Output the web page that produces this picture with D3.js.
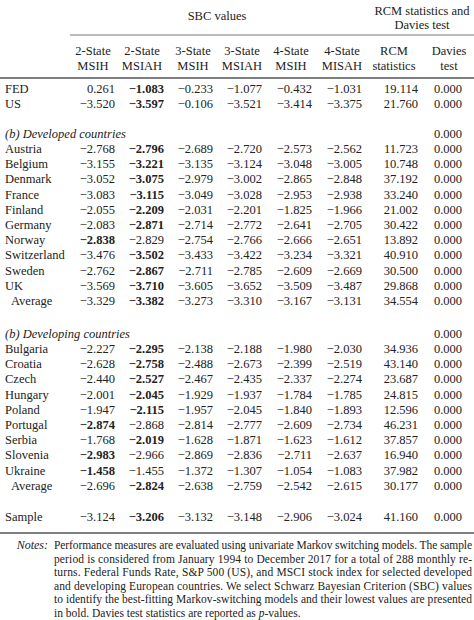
<!DOCTYPE html><html><head><meta charset="utf-8">
<script src="https://cdn.jsdelivr.net/npm/d3@7"></script>
<style>body{margin:0;background:#fff}svg{display:block}</style></head><body>
<script>
const colHeads=[["2-State","MSIH"],["2-State","MSIAH"],["3-State","MSIH"],["3-State","MSIAH"],["4-State","MSIH"],["4-State","MISAH"],["RCM","statistics"],["Davies","test"]];
const rowsA=[["FED",[0.261,-1.083,-0.233,-1.077,-0.432,-1.031],19.114,0],["US",[-3.520,-3.597,-0.106,-3.521,-3.414,-3.375],21.760,0]];
const rowsB=[["Austria",[-2.768,-2.796,-2.689,-2.720,-2.573,-2.562],11.723,0],["Belgium",[-3.155,-3.221,-3.135,-3.124,-3.048,-3.005],10.748,0],["Denmark",[-3.052,-3.075,-2.979,-3.002,-2.865,-2.848],37.192,0],["France",[-3.083,-3.115,-3.049,-3.028,-2.953,-2.938],33.240,0],["Finland",[-2.055,-2.209,-2.031,-2.201,-1.825,-1.966],21.002,0],["Germany",[-2.083,-2.871,-2.714,-2.772,-2.641,-2.705],30.422,0],["Norway",[-2.838,-2.829,-2.754,-2.766,-2.666,-2.651],13.892,0],["Switzerland",[-3.476,-3.502,-3.433,-3.422,-3.234,-3.321],40.910,0],["Sweden",[-2.762,-2.867,-2.711,-2.785,-2.609,-2.669],30.500,0],["UK",[-3.569,-3.710,-3.605,-3.652,-3.509,-3.487],29.868,0],["  Average",[-3.329,-3.382,-3.273,-3.310,-3.167,-3.131],34.554,0]];
const rowsC=[["Bulgaria",[-2.227,-2.295,-2.138,-2.188,-1.980,-2.030],34.936,0],["Croatia",[-2.628,-2.758,-2.488,-2.673,-2.399,-2.519],43.140,0],["Czech",[-2.440,-2.527,-2.467,-2.435,-2.337,-2.274],23.687,0],["Hungary",[-2.001,-2.045,-1.929,-1.937,-1.784,-1.785],24.815,0],["Poland",[-1.947,-2.115,-1.957,-2.045,-1.840,-1.893],12.596,0],["Portugal",[-2.874,-2.868,-2.814,-2.777,-2.609,-2.734],46.231,0],["Serbia",[-1.768,-2.019,-1.628,-1.871,-1.623,-1.612],37.857,0],["Slovenia",[-2.983,-2.966,-2.869,-2.836,-2.711,-2.637],16.940,0],["Ukraine",[-1.458,-1.455,-1.372,-1.307,-1.054,-1.083],37.982,0],["  Average",[-2.696,-2.824,-2.638,-2.759,-2.542,-2.615],30.177,0]];
const rowsD=[["Sample",[-3.124,-3.206,-3.132,-3.148,-2.906,-3.024],41.160,0]];
const notes=["Performance measures are evaluated using univariate Markov switching models. The sample","period is considered from January 1994 to December 2017 for a total of 288 monthly re-","turns. Federal Funds Rate, S&P 500 (US), and MSCI stock index for selected developed","and developing European countries. We select Schwarz Bayesian Criterion (SBC) values","to identify the best-fitting Markov-switching models and their lowest values are presented","in bold. Davies test statistics are reported as |p|-values."];

const svg=d3.select("body").append("svg").attr("width",474).attr("height",620)
 .style("font-family","'Liberation Serif','Times New Roman','DejaVu Serif',serif").style("font-size","12.5px").attr("fill","#222");
const rights=[115,164,213,262,312,362,418,462];
const centers=[93,142,193,242,291,342,394,449];
const fmt=v=>{const s=d3.format(".3f")(Math.abs(v));return (v<0?"\u2212":"")+s;};
svg.append("text").attr("x",217).attr("y",20).attr("text-anchor","middle").text("SBC values");
svg.append("text").attr("x",422).attr("y",15).attr("text-anchor","middle").text("RCM statistics and");
svg.append("text").attr("x",422).attr("y",29).attr("text-anchor","middle").text("Davies test");
svg.append("line").attr("x1",70).attr("x2",474).attr("y1",35).attr("y2",35).attr("stroke","#777").attr("stroke-width",1);
colHeads.forEach((h,i)=>{h.forEach((t,j)=>svg.append("text").attr("x",centers[i]).attr("y",55+j*15).attr("text-anchor","middle").text(t));});
svg.append("line").attr("x1",0).attr("x2",474).attr("y1",78).attr("y2",78).attr("stroke","#555").attr("stroke-width",1.3);
function drawRows(rows,y0){
 const y=d3.scaleLinear().domain([0,1]).range([y0,y0+15.2]);
 rows.forEach((r,k)=>{
  const yy=y(k);
  svg.append("text").attr("x",r[0].startsWith(" ")?11:5).attr("y",yy).text(r[0].trim());
  const mn=d3.min(r[1]);
  r[1].forEach((v,i)=>svg.append("text").attr("x",rights[i]).attr("y",yy).attr("text-anchor","end").attr("font-weight",v===mn?"bold":null).text(fmt(v)));
  svg.append("text").attr("x",rights[6]).attr("y",yy).attr("text-anchor","end").text(d3.format(".3f")(r[2]));
  svg.append("text").attr("x",rights[7]).attr("y",yy).attr("text-anchor","end").text(d3.format(".3f")(r[3]));
 });
}
function section(label,y){
 svg.append("text").attr("x",5).attr("y",y).attr("font-style","italic").text(label);
 svg.append("text").attr("x",rights[7]).attr("y",y).attr("text-anchor","end").text("0.000");
}
drawRows(rowsA,93);
section("(b) Developed countries",138);
drawRows(rowsB,153);
section("(b) Developing countries",338);
drawRows(rowsC,353);
drawRows(rowsD,521);
svg.append("line").attr("x1",0).attr("x2",474).attr("y1",533).attr("y2",533).attr("stroke","#555").attr("stroke-width",1.3);
svg.append("text").attr("x",48).attr("y",549).attr("text-anchor","end").attr("font-style","italic").attr("font-size","12px").text("Notes:");
notes.forEach((l,i)=>{
 const t=svg.append("text").attr("x",54).attr("y",549+i*13.6).attr("font-size","11.5px");
 l.split("|").forEach((p,j)=>t.append("tspan").attr("font-style",j===1?"italic":null).text(p));
 if(i<notes.length-1) t.attr("textLength",418).attr("lengthAdjust","spacing");
});
</script></body></html>
